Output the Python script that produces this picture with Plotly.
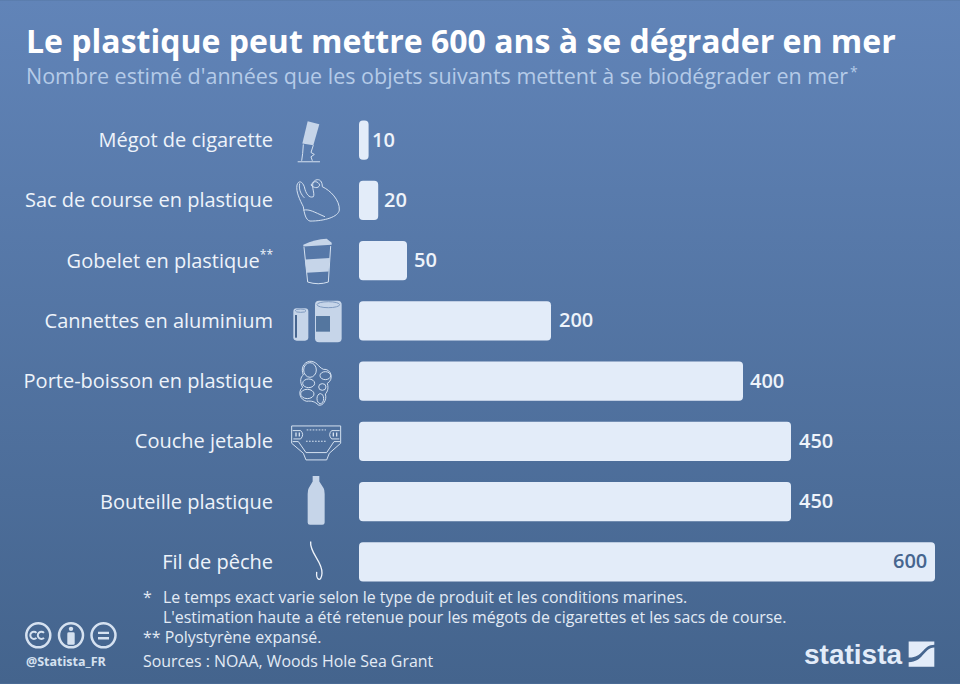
import base64
import plotly.graph_objects as go

categories = ["Mégot de cigarette", "Sac de course en plastique",
              "Gobelet en plastique<sup><span style='font-size:12px'>**</span></sup>",
              "Cannettes en aluminium", "Porte-boisson en plastique", "Couche jetable",
              "Bouteille plastique", "Fil de pêche"]
years = [10, 20, 50, 200, 400, 450, 450, 600]
year_labels = ["10", "20", "50", "200", "400", "450", "450", "600"]

title = "Le plastique peut mettre 600 ans à se dégrader en mer"
subtitle = "Nombre estimé d'années que les objets suivants mettent à se biodégrader en mer"

W, H = 960, 684
L, R, T, B = 359, 935, 109.85, 592.15

BAR = "#e3ecf9"
ICON = "#c6d5e9"
LINE = "#d5e1f0"
label_shift = [1, 4, 5, 6, 5, 6, 6, -6]


# pixel -> paper coords
def ax(px):
    return (px - L) / (R - L)


def ay(py):
    return 1 - (py - T) / (B - T)


# icons are written in the coords of the zoomed crops (3x)
top_icons = f"""
<g transform="translate(285,115) scale(0.3333)" fill="none" stroke="{LINE}" stroke-width="3">
  <path d="M68,18 L103,27 L85,90 L52,85 Z" fill="{ICON}" stroke="none"/>
  <path d="M55,88 L53,115 L50,137 M85,90 L78,112 L88,118 L78,125 L82,137 M38,140 L105,140"/>
  <path d="M36,210 C40,195 52,198 58,215 C62,235 72,250 85,245 C92,235 72,205 92,195 C105,190 112,200 112,215
           C135,225 165,255 163,285 C160,305 120,318 75,318 C62,315 58,295 55,275 C45,255 32,230 36,210 Z"/>
  <path d="M44,205 C40,225 50,240 58,248 M78,210 C85,195 100,198 104,210 C100,222 85,218 78,210
           M55,285 C75,282 85,290 120,305"/>
</g>
<g transform="translate(285,232) scale(0.3333)" fill="none" stroke="{LINE}" stroke-width="3">
  <path d="M55,38 Q90,22 125,20 L140,32 L140,38 L55,43 Z" fill="{ICON}" stroke="none"/>
  <path d="M57,45 L68,150 Q100,160 130,150 L137,42"/>
  <path d="M60,82 L135,78 L131,118 L65,122 Z" fill="{ICON}" stroke="none"/>
</g>
<g transform="translate(270,290) scale(0.3333)" fill="none" stroke="{LINE}" stroke-width="3">
  <rect x="70" y="55" width="45" height="97" rx="10" fill="{ICON}" stroke="none"/>
  <rect x="75" y="75" width="6" height="68" fill="#46658f" stroke="none"/>
  <rect x="135" y="32" width="80" height="125" rx="12" fill="{ICON}" stroke="none"/>
  <rect x="138" y="78" width="42" height="47" fill="#54769f" stroke="none"/>
  <ellipse cx="175" cy="44" rx="34" ry="9" stroke="#7e9ac0"/>
  <ellipse cx="92" cy="62" rx="16" ry="5" stroke="#7e9ac0"/>
  <path d="M118,214 C140,212 145,232 160,238 C185,235 192,270 172,280 C178,300 168,310 166,312
           C172,330 158,350 145,345 C135,335 125,332 110,334 C90,330 82,305 98,292 C88,275 92,260 100,255
           C92,235 100,218 118,214 Z"/>
  <ellipse cx="120" cy="240" rx="19" ry="22"/>
  <ellipse cx="166" cy="257" rx="16" ry="12"/>
  <ellipse cx="116" cy="280" rx="18" ry="13"/>
  <ellipse cx="157" cy="291" rx="11" ry="10"/>
  <ellipse cx="112" cy="312" rx="20" ry="14"/>
  <ellipse cx="151" cy="326" rx="10" ry="15"/>
  <path d="M65,408 L212,408 L212,460 L178,490 L170,510 L108,510 L100,490 L65,460 Z"/>
  <path d="M68,455 L85,455 L108,488 L170,488 L192,455 L210,455 M68,422 L92,422 Q104,434 92,447 L70,447
           M209,422 L185,422 Q173,434 185,447 L208,447"/>
  <path d="M110,420 L168,420 M108,454 L170,454" stroke-dasharray="5 4"/>
  <path d="M78,428 L78,440 M88,428 L88,440 M190,428 L190,440 M200,428 L200,440" stroke-width="4"/>
  <path d="M128,558 L148,558 L148,575 L161,595 Q164,600 164,612 L164,698 Q164,705 157,705 L120,705
           Q113,705 113,698 L113,612 Q113,600 116,595 L128,575 Z" fill="{ICON}" stroke="none"/>
  <path d="M122,755 C118,790 158,815 156,850 C154,878 138,872 140,846" stroke="#eef3fa" stroke-width="4"/>
</g>
"""

cc_icons = f"""
<g fill="none" stroke="{LINE}" stroke-width="2.5">
  <circle cx="38.3" cy="635.5" r="12"/><circle cx="71" cy="635.5" r="12"/><circle cx="103.5" cy="635.5" r="12"/>
  <path d="M36.5,633 A3.6,3.6 0 1 0 36.5,638 M44,633 A3.6,3.6 0 1 0 44,638" stroke-width="2"/>
  <path d="M98,633 L109,633 M98,638.5 L109,638.5" stroke-width="2.4"/>
</g>
<circle cx="71" cy="629" r="2.2" fill="{LINE}"/>
<rect x="67.3" y="632.5" width="7.4" height="12.5" rx="1.5" fill="{LINE}"/>
"""

# statista mark, bottom right
logo_mark = f"""
<g transform="translate(795,635) scale(0.3333)" fill="{BAR}">
  <path d="M341,20 L418,20 L418,30 C385,30 385,65 350,68 L341,68 Z"/>
  <path d="M418,38 L418,96 L341,96 L341,82 C385,82 385,40 418,38 Z"/>
</g>
"""

backdrop = f"""<svg xmlns="http://www.w3.org/2000/svg" width="{W}" height="{H}" viewBox="0 0 {W} {H}">
<defs><linearGradient id="bg" x1="0" y1="0" x2="0" y2="1">
<stop offset="0" stop-color="#6184b8"/><stop offset="1" stop-color="#44648d"/></linearGradient></defs>
<rect width="{W}" height="{H}" fill="url(#bg)"/>{top_icons}{cc_icons}{logo_mark}</svg>"""
backdrop_uri = "data:image/svg+xml;base64," + base64.b64encode(backdrop.encode()).decode()

# an explicit base makes plotly round both ends of the bar
fig = go.Figure(go.Bar(x=years, base=[0] * len(years), y=categories, orientation="h",
                       marker=dict(color=BAR, line=dict(width=0)), hoverinfo="skip"))

notes = [
    (141, 597, "*", 15.9, "#e3ebf5", "normal"),
    (161, 597, "Le temps exact varie selon le type de produit et les conditions marines.", 15.9, "#e3ebf5", "normal"),
    (161, 617, "L'estimation haute a été retenue pour les mégots de cigarettes et les sacs de course.", 15.9, "#e3ebf5", "normal"),
    (141, 637, "** Polystyrène expansé.", 15.9, "#e3ebf5", "normal"),
    (141, 661, "Sources : NOAA, Woods Hole Sea Grant", 15.9, "#e3ebf5", "normal"),
    (24, 662, "@Statista_FR", 12.5, "#d5e1f0", "bold"),
    (24, 75.5, subtitle, 21.5, "#b5cbe8", "normal"),
    (848, 71, "*", 14, "#b5cbe8", "normal"),
]
annotations = []
for px, py, txt, size, col, wt in notes:
    annotations.append(dict(x=ax(px), y=ay(py), text=txt, font=dict(family="Open Sans", size=size, color=col, weight=wt)))
annotations.append(dict(x=ax(802), y=ay(654.5), text="statista",
                        font=dict(family="Liberation Sans", size=28, color=BAR, weight="bold")))
for a in annotations:
    a.update(xref="paper", yref="paper", xanchor="left", yanchor="middle", showarrow=False, align="left")

# value labels sit further off the bar than plotly's own bar text
for cat, val, lab, shift in zip(categories, years, year_labels, label_shift):
    inside = val == max(years)
    annotations.append(dict(x=val, y=cat, xref="x", yref="y", text=lab, showarrow=False,
                            xanchor="right" if inside else "left", xshift=shift, yshift=1,
                            font=dict(family="Open Sans", size=20, weight=600, color="#46658f" if inside else "#eef3fa")))

fig.update_layout(
    width=W,
    height=H,
    margin=dict(l=L, r=W - R, t=T, b=H - B, pad=0),
    paper_bgcolor="#52749f",
    plot_bgcolor="rgba(0,0,0,0)",
    showlegend=False,
    barcornerradius=4.5,
    bargap=0.35,
    title=dict(text=title, x=26 / W, xanchor="left", y=1 - 42 / H, yanchor="middle", xref="container", yref="container",
               font=dict(family="Open Sans", size=32, color="white", weight="bold")),
    xaxis=dict(range=[0, 600], visible=False, fixedrange=True),
    yaxis=dict(autorange="reversed", showgrid=False, zeroline=False, showline=False, ticks="", fixedrange=True,
               ticklabelstandoff=85, tickfont=dict(family="Open Sans", size=20, color="#eef3fa")),
    annotations=annotations,
    images=[dict(source=backdrop_uri, xref="paper", yref="paper", x=ax(0), y=ay(0), sizex=W / (R - L),
                 sizey=H / (B - T), xanchor="left", yanchor="top", sizing="stretch", layer="below")],
)

fig.write_html("out.html", config=dict(displayModeBar=False), post_script="document.body.style.margin='0';")
